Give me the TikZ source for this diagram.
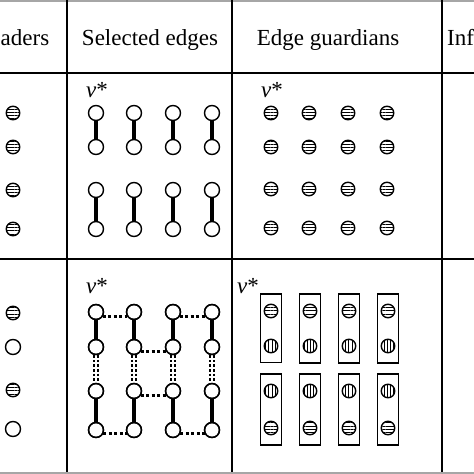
\documentclass[tikz,border=0pt]{standalone}
\usepackage{fontspec}
\setmainfont{Liberation Serif}
\usepackage{tikz}
\usetikzlibrary{positioning, fit, patterns.meta}

\tikzset{
  vtx/.style={circle, draw, line width=1.4pt, minimum size=15pt, inner sep=0pt, fill=white},
  hvtx/.style={circle, draw, line width=1.4pt, minimum size=13.5pt, inner sep=0pt,
    pattern={Lines[angle=0, distance=3.2pt, line width=0.9pt]}},
  vvtx/.style={circle, draw, line width=1.4pt, minimum size=13.5pt, inner sep=0pt,
    pattern={Lines[angle=90, distance=3.2pt, line width=0.9pt]}},
  seledge/.style={line width=3.6pt},
  dotedge/.style={line width=3pt, dash pattern=on 3pt off 2.5pt},
  ddotedge/.style={line width=2.4pt, dash pattern=on 2.6pt off 2pt},
  guard/.style={draw, line width=1.3pt, inner xsep=3pt, inner ysep=9.5pt},
  rule/.style={line width=1.4pt},
  head/.style={font=\fontsize{23}{28}\selectfont, inner sep=0pt},
  vstar/.style={font=\fontsize{23}{28}\selectfont, anchor=base, inner sep=0pt}
}

\begin{document}
\begin{tikzpicture}[x=1pt, y=-1pt]
  \useasboundingbox (0,0) rectangle (474,474);

  % table rules
  \draw[gray!70, line width=2.5pt] (0,1) -- (474,1);
  \draw[gray!70, line width=2pt] (0,473) -- (474,473);
  \draw[rule] (0,73) -- (474,73);
  \draw[rule] (0,259) -- (474,259);
  \foreach \x in {67, 232, 442}
    \draw[rule] (\x,0) -- (\x,472);

  % headers
  \node[head, anchor=base west] (hlead) at (0.5,45) {aders};
  \node[head, anchor=base] (hsel) at (150,45) {Selected edges};
  \node[head, anchor=base] (hguard) at (328,45) {Edge guardians};
  \node[head, anchor=base west] (hinf) at (447,45) {Inf};

  % leaders column
  \foreach \y [count=\r] in {113, 147, 190, 229}
    \node[hvtx] (lt-\r) at (13,\y) {};
  \node[hvtx] (lb-1) at (13,313) {};
  \node[vtx]  (lb-2) at (13,347) {};
  \node[hvtx] (lb-3) at (13,390) {};
  \node[vtx]  (lb-4) at (13,429) {};

  % selected edges, top row
  \node[vstar] (vsel-t) at (97,97) {\textit{v}*};
  \foreach \x [count=\c] in {96, 134, 173, 212} {
    \foreach \y [count=\r] in {113, 147, 190, 229}
      \node[vtx] (st-\c-\r) at (\x,\y) {};
    \draw[seledge] (st-\c-1) -- (st-\c-2);
    \draw[seledge] (st-\c-3) -- (st-\c-4);
  }

  % selected edges, bottom row
  \node[vstar] (vsel-b) at (97,293) {\textit{v}*};
  \foreach \x [count=\c] in {96, 134, 173, 212} {
    \foreach \y [count=\r] in {312, 347, 391, 430}
      \node[vtx] (sb-\c-\r) at (\x,\y) {};
  }
  \foreach \c in {1,...,4} {
    \draw[ddotedge] ([xshift=-2.2pt]sb-\c-2.south) -- ([xshift=-2.2pt]sb-\c-3.north);
    \draw[ddotedge] ([xshift=2.2pt]sb-\c-2.south) -- ([xshift=2.2pt]sb-\c-3.north);
  }
  \draw[dotedge] (sb-1-1.-35) -- (sb-2-1.215);
  \draw[dotedge] (sb-3-1.-35) -- (sb-4-1.215);
  \draw[dotedge] (sb-2-2.-35) -- (sb-3-2.215);
  \draw[dotedge] (sb-2-3.-35) -- (sb-3-3.215);
  \draw[dotedge] (sb-1-4.-25) -- (sb-2-4.205);
  \draw[dotedge] (sb-3-4.-25) -- (sb-4-4.205);
  \foreach \c in {1,...,4} {
    \draw[seledge] (sb-\c-1) -- (sb-\c-2);
    \draw[seledge] (sb-\c-3) -- (sb-\c-4);
  }
  % redraw circles over the dotted ends
  \foreach \c in {1,...,4}
    \foreach \r in {1,...,4}
      \draw[line width=1.4pt] (sb-\c-\r) circle[radius=7.5pt];

  % edge guardians, top row
  \node[vstar] (vguard-t) at (272,97) {\textit{v}*};
  \foreach \x [count=\c] in {271, 309, 348, 387}
    \foreach \y [count=\r] in {113, 147, 189, 228}
      \node[hvtx] (gt-\c-\r) at (\x,\y) {};

  % edge guardians, bottom row
  \node[vstar] (vguard-b) at (248,293) {\textit{v}*};
  \foreach \x [count=\c] in {271, 310, 349, 388} {
    \node[hvtx] (gb-\c-1) at (\x,311) {};
    \node[vvtx] (gb-\c-2) at (\x,346) {};
    \node[vvtx] (gb-\c-3) at (\x,391) {};
    \node[hvtx] (gb-\c-4) at (\x,428) {};
    \node[guard, fit=(gb-\c-1)(gb-\c-2)] (pair-\c-a) {};
    \node[guard, fit=(gb-\c-3)(gb-\c-4)] (pair-\c-b) {};
  }
\end{tikzpicture}
\end{document}
